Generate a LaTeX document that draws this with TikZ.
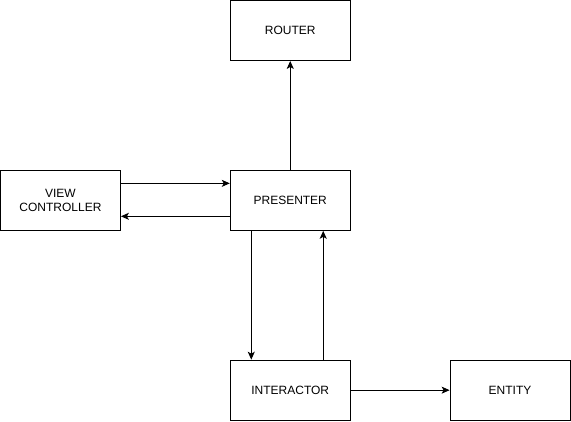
\documentclass[tikz,border=0pt]{standalone}
\usepackage{fontspec}
\setmainfont{Liberation Sans}
\usetikzlibrary{positioning,arrows.meta}

\begin{document}
\begin{tikzpicture}[>={Stealth[length=8pt,width=7pt,inset=2pt]},line width=1pt,node distance=1pt,on grid,
  box/.style={draw,minimum width=120pt,minimum height=60pt,inner sep=0pt,
    align=center,font=\fontsize{12}{14}\selectfont}]
  \useasboundingbox (-290.5pt,-221pt) rectangle (281pt,200.5pt);
  \node[box] (presenter) {PRESENTER};
  \node[box] (router) [above = 170pt of presenter] {ROUTER};
  \node[box] (view) [left = 230pt of presenter] {VIEW\\CONTROLLER};
  \node[box] (interactor) [below = 190pt of presenter] {INTERACTOR};
  \node[box] (entity) [right = 220pt of interactor] {ENTITY};
  \path[->]
  (presenter) edge [] (router)
  ([yshift=17pt]view.east) edge [] ([yshift=17pt]presenter.west)
  ([yshift=-16pt]presenter.west) edge [] ([yshift=-16pt]view.east)
  ([xshift=-39pt]presenter.south) edge [] ([xshift=-39pt]interactor.north)
  ([xshift=33pt]interactor.north) edge [] ([xshift=33pt]presenter.south)
  (interactor) edge [] (entity)
  ;
\end{tikzpicture}
\end{document}
